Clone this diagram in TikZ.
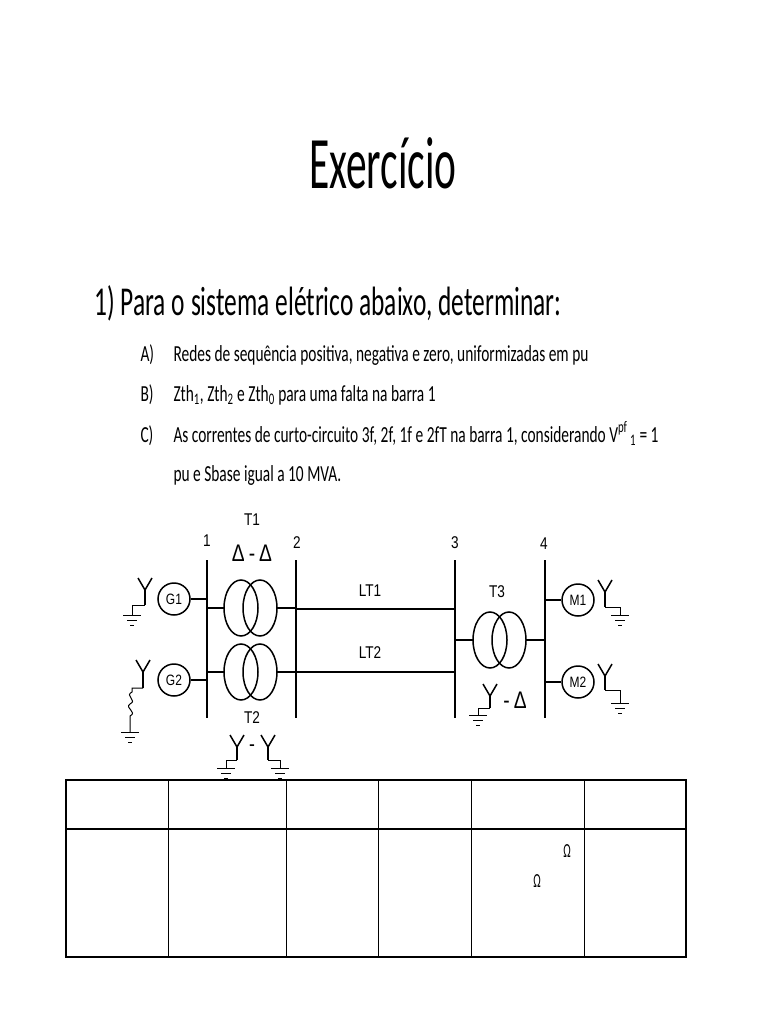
\documentclass[tikz,border=0pt]{standalone}
\usepackage{fontspec}
\setmainfont[FakeStretch=0.56]{Carlito}
\newfontfamily\headfont[FakeStretch=0.62]{Carlito}
\newfontfamily\listfont[FakeStretch=0.67]{Carlito}
\newfontfamily\arial[FakeStretch=0.8]{Liberation Sans}
\begin{document}
\begin{tikzpicture}[x=1pt,y=-1pt,line width=1pt,
  lbl/.style={font=\arial\fontsize{17}{17}\selectfont,inner sep=0},
  mach/.style={circle,draw,line width=1.5pt,minimum size=32pt,inner sep=0,font=\arial\fontsize{15}{15}\selectfont},
  tr/.style={line width=1.5pt},
  bus/.style={line width=1.8pt},
  tline/.style={line width=1.6pt}]
\useasboundingbox (0,0) rectangle (768,1024);
\newcommand\gnd[2]{\draw (#1-9,#2) -- (#1+9,#2); \draw (#1-5,#2+5) -- (#1+5,#2+5); \draw (#1-2,#2+10) -- (#1+2,#2+10);}
\newcommand\wye[3]{% x, top y, bottom y
  \draw[line width=1.5pt] (#1-7,#2) -- (#1,#2+12) -- (#1+7,#2); \draw[line width=1.5pt] (#1,#2+12) -- (#1,#3);}
% texts
\node[font=\fontsize{74}{74}\selectfont,anchor=base] (title) at (383,189) {Exercício};
\node[font=\headfont\fontsize{41}{41}\selectfont,anchor=base west,inner sep=0] (q) at (94,315) {1) Para o sistema elétrico abaixo, determinar:};
\begin{scope}[every node/.style={font=\listfont\fontsize{23}{23}\selectfont,anchor=base west,inner sep=0}]
\node (la) at (140,361) {A)}; \node (ta) at (173,361) {Redes de sequência positiva, negativa e zero, uniformizadas em pu};
\node (lb) at (140,401) {B)}; \node (tb) at (173,401) {Zth\textsubscript{1}, Zth\textsubscript{2} e Zth\textsubscript{0} para uma falta na barra 1};
\node (lc) at (140,442) {C)}; \node (tc) at (173,442) {As correntes de curto-circuito 3f, 2f, 1f e 2fT na barra 1, considerando V\textsuperscript{pf}\textsubscript{\,1} = 1};
\node (tc2) at (173,481) {pu e Sbase igual a 10 MVA.};
\end{scope}
% buses
\coordinate (b1t) at (207,560); \coordinate (b1b) at (207,718);
\coordinate (b2t) at (296,560); \coordinate (b2b) at (296,718);
\coordinate (b3t) at (455,560); \coordinate (b3b) at (455,718);
\coordinate (b4t) at (545,560); \coordinate (b4b) at (545,718);
\draw[bus] (b1t) -- (b1b); \draw[bus] (b2t) -- (b2b); \draw[bus] (b3t) -- (b3b); \draw[bus] (b4t) -- (b4b);
\node[lbl] (n1) at (207,541) {1}; \node[lbl] (n2) at (297,543) {2};
\node[lbl] (n3) at (455,543) {3}; \node[lbl] (n4) at (544,544) {4};
% machines
\node[mach] (G1) at (174,599) {G1};
\node[mach] (G2) at (174,680) {G2};
\node[mach] (M1) at (578,600) {M1};
\node[mach] (M2) at (578,682) {M2};
\draw[line width=2.2pt] (G1.east) -- (207,599);
\draw[line width=2.2pt] (G2.east) -- (207,680);
\draw[line width=2.2pt] (545,600) -- (M1.west);
\draw[line width=2.8pt] (545,682) -- (M2.west);
% transformers
\foreach \cx/\cy in {241/608,260/608,241/672,260/672,490/640,509/640}
  \draw[tr] (\cx,\cy) ellipse [x radius=17, y radius=28];
\draw[tline] (207,608) -- (224,608); \draw[tline] (277,608) -- (296,608);
\draw[line width=2.2pt] (207,672) -- (224,672); \draw[line width=2.2pt] (277,672) -- (296,672);
\draw[tline] (455,640) -- (473,640); \draw[tline] (526,640) -- (545,640);
% lines
\draw[tline] (b2t|-0,609) -- (b3t|-0,609);
\draw[line width=2.8pt] (b2t|-0,672) -- (b3t|-0,672);
\node[lbl] (lt1) at (370,591) {LT1};
\node[lbl] (lt2) at (370,653) {LT2};
\node[lbl] (t1) at (252,520) {T1};
\node[lbl] (t2) at (252,718) {T2};
\node[lbl] (t3) at (497,592) {T3};
\node[lbl,font=\arial\fontsize{24}{24}\selectfont] (d1) at (252,553) {Δ\,-\,Δ};
% G1 ground
\wye{145}{578}{605}
\draw (145,605) -- (132,605) -- (132,615); \gnd{132}{615}
% G2 ground with impedance
\wye{143}{660}{688}
\draw (143,688) -- (132,688) -- (132,692)
  .. controls (124,696) and (138,700) .. (130,704)
  .. controls (124,708) and (138,712) .. (130,716) -- (130,732);
\gnd{130}{732}
% T2
\wye{237}{735}{760}
\draw (237,760) -- (226,760) -- (226,768); \gnd{226}{768}
\node[lbl,font=\arial\fontsize{22}{22}\selectfont] (dash2) at (252,748) {-};
\wye{268}{735}{760}
\draw (268,760) -- (280,760) -- (280,768); \gnd{280}{768}
% T3
\wye{490}{684}{708}
\draw (490,708) -- (478,708) -- (478,715); \gnd{478}{715}
\node[lbl,font=\arial\fontsize{24}{24}\selectfont] (d3) at (515,700) {-\,Δ};
% M1, M2
\wye{605}{580}{607}
\draw (605,607) -- (620,607) -- (620,615); \gnd{620}{615}
\wye{605}{664}{690}
\draw (605,690) -- (620,690) -- (620,703); \gnd{620}{703}
% table
\coordinate (tl) at (66,780); \coordinate (br) at (686,957);
\draw[line width=1.2pt] (tl) rectangle (br);
\draw[line width=1.2pt] (66,829) -- (686,829);
\foreach \xx in {168,286,378,471,584} \draw[line width=0.8pt] (\xx,780) -- (\xx,957);
\node[font=\fontsize{20}{20}\selectfont] (om1) at (567,851) {Ω};
\node[font=\fontsize{20}{20}\selectfont] (om2) at (537,881) {Ω};
\end{tikzpicture}
\end{document}
